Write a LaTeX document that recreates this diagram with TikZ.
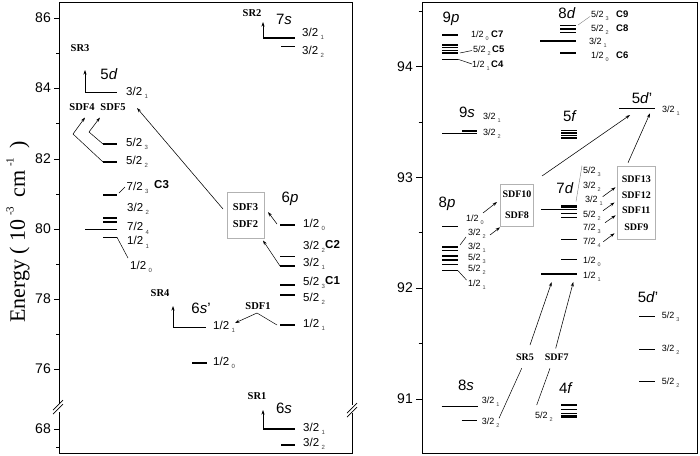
\documentclass[tikz,border=0pt]{standalone}
\usepackage{fontspec}
\setmainfont{Liberation Sans}
\newfontfamily\tms{Liberation Serif}
\usetikzlibrary{arrows.meta}
\tikzset{
 lev/.style={line width=1.4pt},
 frm/.style={line width=1pt},
 arr/.style={line width=0.55pt,-{Stealth[length=4.5pt,width=3pt]}},
 con/.style={line width=0.5pt},
 gcon/.style={line width=0.4pt,gray},
 lab/.style={inner sep=0pt,anchor=west,font=\fontsize{11.5}{11.5}\selectfont},
 rlab/.style={inner sep=0pt,anchor=west,font=\fontsize{9}{9}\selectfont},
 cfg/.style={inner sep=0pt,font=\fontsize{15}{15}\selectfont},
 sdf/.style={inner sep=0pt,font=\tms\bfseries\fontsize{10}{10}\selectfont},
 lsdf/.style={inner sep=0pt,font=\tms\bfseries\fontsize{10.5}{10.5}\selectfont},
 cc/.style={inner sep=0pt,anchor=west,font=\bfseries\fontsize{11.5}{11.5}\selectfont},
 rcc/.style={inner sep=0pt,anchor=west,font=\bfseries\fontsize{9.5}{9.5}\selectfont},
 sbox/.style={draw=gray!60,line width=0.8pt},
 tck/.style={line width=0.8pt},
 tlab/.style={inner sep=0pt,anchor=east,font=\fontsize{14}{14}\selectfont},
}
\newcommand\jj[2]{#1\hspace{2.5pt}\raisebox{-0.6ex}[0pt][0pt]{\color{darkgray}\fontsize{6}{6}\selectfont #2}}
\newcommand\rj[2]{#1\hspace{2pt}\raisebox{-0.6ex}[0pt][0pt]{\color{darkgray}\fontsize{5.5}{5.5}\selectfont #2}}
\newcommand\mylev[4]{\draw[lev] (#2,#4) coordinate (#1l) -- (#3,#4) coordinate (#1r);}
\begin{document}
\begin{tikzpicture}[x=1pt,y=-1pt]
\useasboundingbox (0,0) rectangle (700,455);
% ===== LEFT PANEL FRAME =====
\draw[frm] (59,2) rectangle (352,453);
\foreach \yy/\tt in {18/86,88/84,159/82,229/80,299/78,369/76,429/68}{
  \draw[tck] (54,\yy) -- (59,\yy);
  \node[tlab] at (51,\yy) {\tt};
}
\foreach \yy in {53,123,194,264,334,447}{\draw[tck] (56,\yy) -- (59,\yy);}
% breaks
\fill[white] (55,404) rectangle (63,412);
\draw[line width=0.7pt] (53,414) -- (63,404) (53,410) -- (63,400);
\fill[white] (348,405) rectangle (356,413);
\draw[line width=0.7pt] (347,417) -- (357,407) (347,413) -- (357,403);
\node[rotate=90,inner sep=0pt,font=\tms\fontsize{22}{22}\selectfont] (ylab) at (18,232)
  {Energy ( 10\,\raisebox{1.1ex}{\fontsize{11}{11}\selectfont -3}\, cm\,\raisebox{1.1ex}{\fontsize{11}{11}\selectfont -1}\, )};

% ---- 7s ----
\node[cfg] (c7s) at (284,19) {7\textit{s}};
\mylev{a1}{263}{295}{38}
\mylev{a2}{281}{295}{46.7}
\node[lab] (la1) at (302,32) {\jj{3/2}{1}};
\node[lab] (la2) at (302,50) {\jj{3/2}{2}};
\node[lsdf] (sr2) at (252,13) {SR2};
\coordinate (sr2t) at (263,22);
\draw[arr] (a1l) -- (sr2t);

% ---- 5d ----
\node[cfg] (c5d) at (109,74) {5\textit{d}};
\node[lsdf] (sr3) at (80,48) {SR3};
\mylev{b1}{85}{117}{92.7}
\coordinate (sr3t) at (85,70);
\draw[arr] (b1l) -- (sr3t);
\node[lab] (lb1) at (126,91) {\jj{3/2}{1}};
\node[lsdf] (sdf4) at (82,107) {SDF4};
\node[lsdf] (sdf5) at (113,107) {SDF5};
\mylev{b2}{103}{117}{144}
\mylev{b3}{103}{117}{162}
\node[lab] (lb2) at (126,142) {\jj{5/2}{3}};
\node[lab] (lb3) at (126,160) {\jj{5/2}{2}};
\coordinate (k4) at (73,134); \coordinate (t4) at (85,117.5);
\coordinate (k5) at (89,132); \coordinate (t5) at (100,117.5);
\draw[con] (b3l) -- (k4);
\draw[arr] (k4) -- (t4);
\draw[con] (b2l) -- (k5);
\draw[arr] (k5) -- (t5);
\mylev{b4}{103}{117}{195}
\node[lab] (lb4) at (126.5,186) {\jj{7/2}{3}};
\node[cc] (c3) at (154,185) {C3};
\coordinate (k6) at (125,187);
\draw[con] (119,193) -- (k6);
\node[lab] (lb5) at (127,207) {\jj{3/2}{2}};
\mylev{b5}{103}{117}{218}
\mylev{b6}{103}{117}{222}
\mylev{b7}{85}{117}{229.3}
\mylev{b8}{103}{117}{237.3}
\node[lab] (lb6) at (127,226.5) {\jj{7/2}{4}};
\node[lab] (lb7) at (127,240.5) {\jj{1/2}{1}};
\node[lab] (lb8) at (130,265) {\jj{1/2}{0}};
\coordinate (k7) at (128,258);
\draw[con] (b8r) -- (k7);

% ---- 6p ----
\node[cfg] (c6p) at (290,199) {6\textit{p}};
\draw[sbox] (227,192) rectangle (264,238);
\node[lsdf] (sdf3) at (245.5,207) {SDF3};
\node[lsdf] (sdf2) at (245.5,224) {SDF2};
\mylev{p1}{280}{295}{225}
\node[lab] (lp1) at (303,223) {\jj{1/2}{0}};
\coordinate (tp1) at (268,212);
\draw[arr] (277,224) -- (tp1);
\mylev{p2}{280}{295}{256.7}
\mylev{p3}{280}{295}{266}
\node[lab] (lp2) at (303,245) {\jj{3/2}{2}};
\node[cc] (c2) at (325,245) {C2};
\node[lab] (lp3) at (303,262) {\jj{3/2}{1}};
\coordinate (tp3) at (263,240.5);
\draw[arr] (p3l) -- (tp3);
\mylev{p4}{280}{295}{285}
\mylev{p5}{280}{295}{295}
\node[lab] (lp4) at (303,281) {\jj{5/2}{3}};
\node[cc] (c1) at (325,281) {C1};
\node[lab] (lp5) at (303,297) {\jj{5/2}{2}};
\mylev{p6}{280}{295}{325}
\node[lab] (lp6) at (303,323) {\jj{1/2}{1}};
\node[lsdf] (sdf1) at (258,306) {SDF1};
\coordinate (k1) at (257,313); \coordinate (t1) at (235,323);
\draw[con] (277,325) -- (k1);
\draw[arr] (k1) -- (t1);
% long arrow SDF3 -> 5d
\coordinate (s3a) at (223,209); \coordinate (s3b) at (137,108);
\draw[arr] (s3a) -- (s3b);

% ---- 6s' ----
\node[cfg] (c6sp) at (201,308) {6\textit{s}'};
\node[lsdf] (sr4) at (160,293) {SR4};
\mylev{q1}{173}{206}{327.7}
\coordinate (sr4t) at (173,306);
\draw[arr] (q1l) -- (sr4t);
\node[lab] (lq1) at (213,325) {\jj{1/2}{1}};
\mylev{q2}{192}{207}{363}
\node[lab] (lq2) at (213,361) {\jj{1/2}{0}};

% ---- 6s ----
\node[cfg] (c6s) at (284,408) {6\textit{s}};
\node[lsdf] (sr1) at (257,396) {SR1};
\mylev{s1}{263}{295}{429}
\coordinate (sr1t) at (263,410);
\draw[arr] (s1l) -- (sr1t);
\node[lab] (ls1) at (303,427) {\jj{3/2}{1}};
\mylev{s2}{281}{295}{445}
\node[lab] (ls2) at (303,442) {\jj{3/2}{2}};

% ===== RIGHT PANEL FRAME =====
\draw[frm] (422,2) rectangle (697,453);
\foreach \yy/\tt in {66.7/94,177.3/93,288/92,399/91}{
  \draw[tck] (416,\yy) -- (422,\yy);
  \node[tlab] at (413,\yy) {\tt};
}
\foreach \yy in {11.3,122,232.7,343.4}{\draw[tck] (418.5,\yy) -- (422,\yy);}

% ---- 9p ----
\node[cfg] (c9p) at (451,19) {9\textit{p}};
\mylev{n1}{442}{458}{35}
\foreach \yy in {45,47.7,50.3,53}{\draw[lev,line width=1.2pt] (442,\yy) -- (458,\yy);}
\mylev{n2}{442}{458}{59.3}
\node[rlab] (ln1) at (471,34) {\rj{1/2}{0}};
\node[rcc] (c7) at (491,34) {C7};
\node[rlab] (ln2) at (473,49.5) {\rj{5/2}{2}};
\node[rcc] (c5) at (492,49.5) {C5};
\node[rlab] (ln3) at (472,64.5) {\rj{1/2}{1}};
\node[rcc] (c4) at (491,64.5) {C4};
\coordinate (kn2) at (472,50.5); \coordinate (kn3) at (472,64);
\draw[con] (460,53) -- (kn2);
\draw[con] (n2r) -- (kn3);

% ---- 8d ----
\node[cfg] (c8d) at (567,13) {8\textit{d}};
\mylev{d1}{560}{576}{25.7}
\mylev{d2}{560}{576}{29}
\mylev{d3}{560}{576}{32.3}
\mylev{d4}{540}{576}{41}
\mylev{d5}{560}{576}{53}
\node[rlab] (ld1) at (591,14) {\rj{5/2}{3}};
\node[rcc] (c9) at (616,14) {C9};
\node[rlab] (ld2) at (591,28.5) {\rj{5/2}{2}};
\node[rcc] (c8) at (616,28.5) {C8};
\node[rlab] (ld4) at (589,41.7) {\rj{3/2}{1}};
\node[rlab] (ld5) at (591,55) {\rj{1/2}{0}};
\node[rcc] (c6) at (616,55) {C6};
\coordinate (kd1) at (590,16.5);
\draw[gcon] (578,25) -- (kd1);

% ---- 9s ----
\node[cfg] (c9s) at (467,112) {9\textit{s}};
\mylev{e1}{462}{477}{131}
\mylev{e2}{442}{477}{133.3}
\node[rlab] (le1) at (483,116.7) {\rj{3/2}{1}};
\node[rlab] (le2) at (483,132) {\rj{3/2}{2}};

% ---- 5f ----
\node[cfg] (c5f) at (570,116) {5\textit{f}};
\foreach \yy in {130.5,133,135.5,138}{\draw[lev,line width=1.3pt] (561,\yy) -- (577,\yy);}

% ---- 5d' top ----
\node[cfg] (c5dp) at (642,98) {5\textit{d}'};
\mylev{f1}{619}{655}{108.3}
\node[rlab] (lf1) at (662,109) {\rj{3/2}{1}};
\coordinate (fa1) at (630,115); \coordinate (fa2) at (650,113.3);
\coordinate (ba1) at (542,176); \coordinate (ba2) at (628,162.7);
\draw[arr] (ba1) -- (fa1);
\draw[arr] (ba2) -- (fa2);

% ---- 8p ----
\node[cfg] (c8p) at (447,204) {8\textit{p}};
\mylev{g1}{442}{458}{226.7}
\foreach \yy in {247,250.8,256,260,264.5}{\draw[lev,line width=1.2pt] (442,\yy) -- (458,\yy);}
\mylev{g2}{442}{458}{270.7}
\node[rlab] (lg1) at (466,218.3) {\rj{1/2}{0}};
\node[rlab] (lg2) at (468,232) {\rj{3/2}{2}};
\node[rlab] (lg3) at (468,246.7) {\rj{3/2}{1}};
\node[rlab] (lg4) at (468,257.3) {\rj{5/2}{3}};
\node[rlab] (lg5) at (468,268.3) {\rj{5/2}{2}};
\node[rlab] (lg6) at (468,283.3) {\rj{1/2}{1}};
\coordinate (kg2) at (466,237); \coordinate (kg6) at (466.5,280);
\draw[con] (460,245) -- (kg2);
\draw[con] (g2r) -- (kg6);
\draw[sbox] (500.7,184.3) rectangle (533,226);
\node[sdf] (sdf10) at (517,194) {SDF10};
\node[sdf] (sdf8) at (517,215) {SDF8};
\coordinate (ag1) at (483,213); \coordinate (tg1) at (497,202);
\coordinate (ag2) at (490,235); \coordinate (tg2) at (500,227.3);
\draw[arr] (ag1) -- (tg1);
\draw[arr] (ag2) -- (tg2);

% ---- 7d ----
\node[cfg] (c7d) at (565,188) {7\textit{d}};
\draw[line width=2.4pt] (561,206.5) -- (577,206.5);
\mylev{h1}{541}{577}{209.3}
\mylev{h2}{561}{577}{213.3}
\mylev{h3}{561}{577}{217.3}
\mylev{h4}{561}{577}{239.3}
\mylev{h5}{561}{577}{259.3}
\mylev{h6}{541}{577}{274}
\node[rlab] (lh1) at (583,170) {\rj{5/2}{3}};
\node[rlab] (lh2) at (583,185) {\rj{3/2}{2}};
\node[rlab] (lh3) at (585,199.3) {\rj{3/2}{1}};
\node[rlab] (lh4) at (583,214) {\rj{5/2}{2}};
\node[rlab] (lh5) at (583,227.3) {\rj{7/2}{3}};
\node[rlab] (lh6) at (583,241.7) {\rj{7/2}{4}};
\node[rlab] (lh7) at (583,260) {\rj{1/2}{0}};
\node[rlab] (lh8) at (583,275) {\rj{1/2}{1}};
\coordinate (kh1) at (582,165.5);
\draw[gcon] (576,201.5) -- (kh1);
\draw[sbox] (617,166.7) rectangle (655.7,239.3);
\node[sdf] (sdf13) at (636.3,179) {SDF13};
\node[sdf] (sdf12) at (636.3,195) {SDF12};
\node[sdf] (sdf11) at (636.3,210.7) {SDF11};
\node[sdf] (sdf9) at (636.3,227.3) {SDF9};
\coordinate (ah1) at (602.7,196.7); \coordinate (th1) at (615.5,187.3);
\coordinate (ah2) at (603,210.7); \coordinate (th2) at (614.5,202.5);
\coordinate (ah3) at (605,222.7); \coordinate (th3) at (615.7,215.3);
\coordinate (ah4) at (603.3,241.7); \coordinate (th4) at (614.5,233.3);
\draw[arr] (ah1) -- (th1);
\draw[arr] (ah2) -- (th2);
\draw[arr] (ah3) -- (th3);
\draw[arr] (ah4) -- (th4);

% ---- 8s ----
\node[cfg] (c8s) at (466,385) {8\textit{s}};
\mylev{i1}{441.7}{477.7}{406.7}
\mylev{i2}{461.7}{476.7}{420.7}
\node[rlab] (li1) at (481.7,400) {\rj{3/2}{1}};
\node[rlab] (li2) at (481.7,421.7) {\rj{3/2}{2}};
\node[sdf] (sr5) at (525,357.7) {SR5};
\node[sdf] (sdf7) at (556.7,357.7) {SDF7};
\coordinate (r5a) at (499,418.3); \coordinate (r5b) at (521.7,368.3);
\coordinate (r5c) at (530,345); \coordinate (r5d) at (551.7,282);
\draw[con] (r5a) -- (r5b);
\draw[arr] (r5c) -- (r5d);
\coordinate (f7a) at (536.7,405); \coordinate (f7b) at (550,368.3);
\coordinate (f7c) at (555.7,348.3); \coordinate (f7d) at (573.3,282);
\draw[con] (f7a) -- (f7b);
\draw[arr] (f7c) -- (f7d);
\node[rlab] (lj1) at (535,415) {\rj{5/2}{2}};

% ---- 4f ----
\node[cfg] (c4f) at (566,388) {4\textit{f}};
\foreach \yy in {405,409.3,413.3}{\draw[lev,line width=1.3pt] (561,\yy) -- (577,\yy);}
\draw[line width=2.4pt] (561,416.3) -- (577,416.3);

% ---- 5d' lower ----
\node[cfg] (c5dq) at (648,297) {5\textit{d}'};
\mylev{m1}{639}{655}{316.7}
\mylev{m2}{639}{655}{349.3}
\mylev{m3}{639}{655}{381.7}
\node[rlab] (lm1) at (661.7,315) {\rj{5/2}{3}};
\node[rlab] (lm2) at (661.7,348.3) {\rj{3/2}{2}};
\node[rlab] (lm3) at (661.7,381.7) {\rj{5/2}{2}};
\end{tikzpicture}
\end{document}
